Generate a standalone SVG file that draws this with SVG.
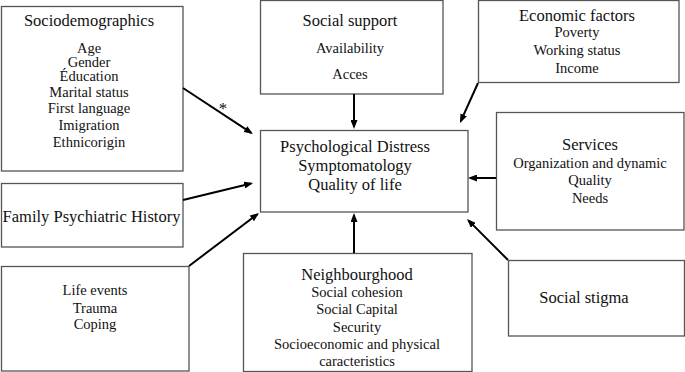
<svg xmlns="http://www.w3.org/2000/svg" width="685" height="372" viewBox="0 0 685 372">
<defs>
<style>
.box{fill:#fff;stroke:#555;stroke-width:1.3}
.t{font-family:'Liberation Serif','DejaVu Serif',serif;fill:#111;text-anchor:middle}
.h{font-size:16.5px}
.i{font-size:14.5px}
.c line{stroke:#000;stroke-width:2;marker-end:url(#ah)}
</style>
<marker id="ah" viewBox="0 0 9 7" refX="7" refY="3.5" markerWidth="9" markerHeight="7" markerUnits="userSpaceOnUse" orient="auto">
<path d="M0,0 L9,3.5 L0,7 z" fill="#000"/>
</marker>
</defs>
<rect width="685" height="372" fill="#fff"/>
<g id="sociodemographics">
<rect class="box" x="1.5" y="6.5" width="181.5" height="164.5"/>
<text class="t h" x="89" y="26">Sociodemographics</text>
<text class="t i" x="89" y="53">Age</text>
<text class="t i" x="89" y="67">Gender</text>
<text class="t i" x="89" y="81">Éducation</text>
<text class="t i" x="89" y="97">Marital status</text>
<text class="t i" x="89" y="113">First language</text>
<text class="t i" x="89" y="130">Imigration</text>
<text class="t i" x="89" y="147">Ethnicorigin</text>
</g>
<g id="social-support">
<rect class="box" x="260.5" y="0.5" width="182.5" height="93.5"/>
<text class="t h" x="350" y="26">Social support</text>
<text class="t i" x="350" y="53">Availability</text>
<text class="t i" x="350" y="79">Acces</text>
</g>
<g id="economic-factors">
<rect class="box" x="478.5" y="0.5" width="200.5" height="82"/>
<text class="t h" x="577" y="21">Economic factors</text>
<text class="t i" x="577" y="37">Poverty</text>
<text class="t i" x="577" y="55">Working status</text>
<text class="t i" x="577" y="73">Income</text>
</g>
<g id="psychological-distress">
<rect class="box" x="260.5" y="130.5" width="207.5" height="81.5"/>
<text class="t h" x="355" y="152">Psychological Distress</text>
<text class="t h" x="355" y="171">Symptomatology</text>
<text class="t h" x="355" y="190">Quality of life</text>
</g>
<g id="services">
<rect class="box" x="496.5" y="112.5" width="187.5" height="117.5"/>
<text class="t h" x="590" y="150">Services</text>
<text class="t i" x="590" y="168">Organization and dynamic</text>
<text class="t i" x="590" y="185">Quality</text>
<text class="t i" x="590" y="203">Needs</text>
</g>
<g id="family-psychiatric-history">
<rect class="box" x="1.5" y="183.5" width="181.5" height="63.5"/>
<text class="t h" x="91.5" y="222">Family Psychiatric History</text>
</g>
<g id="life-events">
<rect class="box" x="1.5" y="266.5" width="187.5" height="104.5"/>
<text class="t i" x="95" y="295">Life events</text>
<text class="t i" x="95" y="313">Trauma</text>
<text class="t i" x="95" y="329">Coping</text>
</g>
<g id="neighbourhood">
<rect class="box" x="243.5" y="253.5" width="228.5" height="118"/>
<text class="t h" x="357" y="280">Neighbourghood</text>
<text class="t i" x="357" y="297">Social cohesion</text>
<text class="t i" x="357" y="314">Social Capital</text>
<text class="t i" x="357" y="332">Security</text>
<text class="t i" x="357" y="349">Socioeconomic and physical</text>
<text class="t i" x="357" y="366">caracteristics</text>
</g>
<g id="social-stigma">
<rect class="box" x="508.5" y="260.5" width="176" height="75.5"/>
<text class="t h" x="584" y="303">Social stigma</text>
</g>
<g id="connectors" class="c">
<line x1="183" y1="88" x2="251.3" y2="132.9"/>
<line x1="183" y1="200" x2="251.1" y2="183.5"/>
<line x1="189" y1="266" x2="257.4" y2="214.2"/>
<line x1="354" y1="94" x2="354" y2="127"/>
<line x1="478" y1="83" x2="460.8" y2="121.2"/>
<line x1="496" y1="178" x2="470" y2="178"/>
<line x1="354" y1="253" x2="354" y2="215"/>
<line x1="508" y1="260" x2="468.4" y2="220.4"/>
<text class="t" x="223" y="114" font-size="17">*</text>
</g>
</svg>
